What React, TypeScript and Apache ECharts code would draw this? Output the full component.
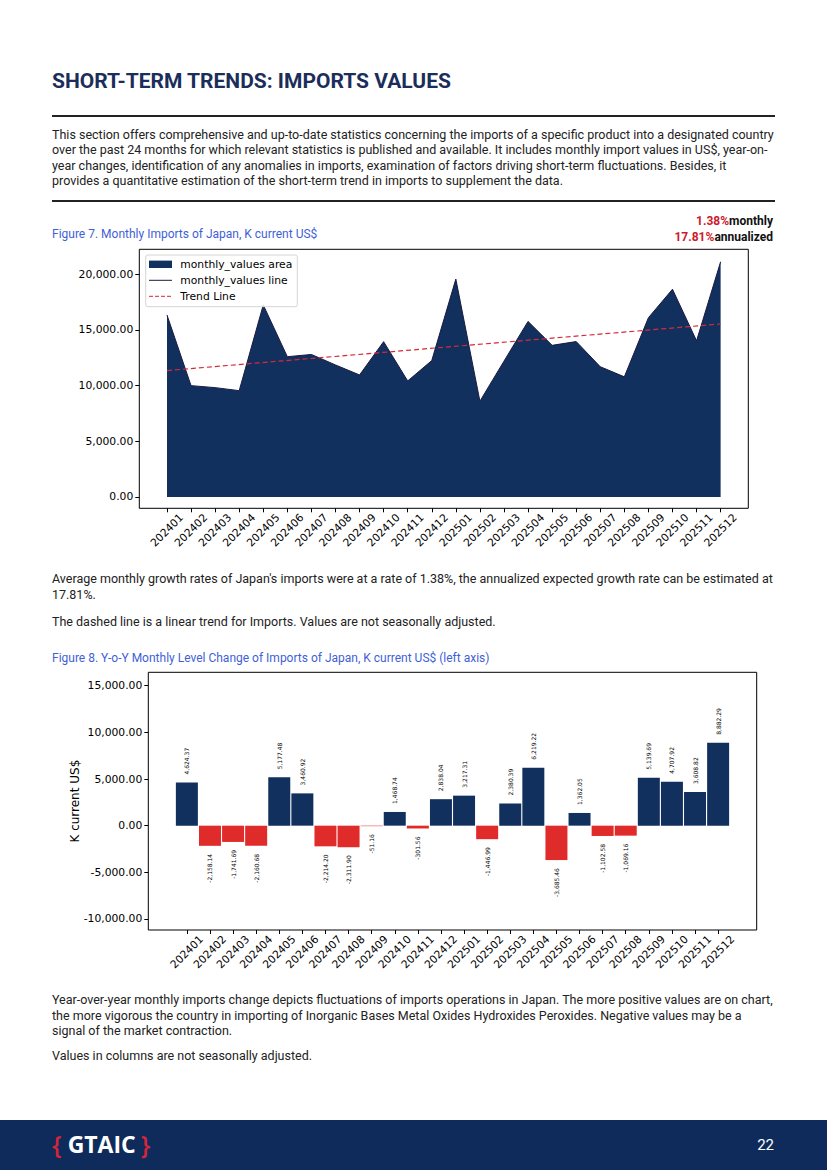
import React, { useEffect, useRef } from "react";
import * as echarts from "echarts";

const months = [
  "202401", "202402", "202403", "202404", "202405", "202406",
  "202407", "202408", "202409", "202410", "202411", "202412",
  "202501", "202502", "202503", "202504", "202505", "202506",
  "202507", "202508", "202509", "202510", "202511", "202512",
];

const monthlyValues = [
  16350, 10000, 9820, 9550, 17250, 12600, 12800, 11860, 10960, 13950, 10420, 12250,
  19570, 8600, 12200, 15770, 13620, 13960, 11700, 10790, 16100, 18660, 14030, 21130,
];

const trendStart = 11350;
const trendEnd = 15540;

const yoyChange = [
  4624.37, -2158.14, -1741.69, -2160.68, 5177.48, 3460.92, -2214.2, -2311.9,
  -51.16, 1468.74, -301.56, 2838.04, 3217.31, -1446.99, 2380.39, 6219.22,
  -3685.46, 1362.05, -1102.58, -1069.16, 5139.69, 4707.92, 3608.82, 8882.29,
];

const yTicks1 = [0, 5000, 10000, 15000, 20000];
const yTicks2 = [-10000, -5000, 0, 5000, 10000, 15000];

const NAVY = "#12305e";
const RED = "#e02b2b";
const TREND = "#d42a3c";
const MPL = "DejaVu Sans";

const fmt = (v: number) =>
  v.toLocaleString("en-US", { minimumFractionDigits: 2, maximumFractionDigits: 2 });

const idx = months.map((_, i) => i);

function xAxisFor(gridIndex: number, min: number, max: number) {
  return {
    type: "value",
    gridIndex,
    min,
    max,
    splitLine: { show: false },
    axisLine: { show: false, onZero: false },
    axisTick: { show: true, customValues: idx, length: 4, lineStyle: { color: "#000", width: 1 } },
    axisLabel: {
      customValues: idx,
      formatter: (v: number) => months[Math.round(v)] ?? "",
      rotate: 45,
      align: "center",
      verticalAlign: "middle",
      fontSize: 10.75,
      fontFamily: MPL,
      color: "#000",
      margin: 22,
    },
  };
}

function yAxisFor(gridIndex: number, min: number, max: number, ticks: number[], extra: any = {}) {
  return {
    type: "value",
    gridIndex,
    min,
    max,
    splitLine: { show: false },
    axisLine: { show: false, onZero: false },
    axisTick: { show: true, customValues: ticks, length: 4, lineStyle: { color: "#000", width: 1 } },
    axisLabel: {
      customValues: ticks,
      formatter: (v: number) => fmt(v),
      fontSize: 10.75,
      fontFamily: MPL,
      color: "#000",
      margin: 6,
    },
    ...extra,
  };
}

const legendRows = [
  { name: "monthly_values area", kind: "patch" },
  { name: "monthly_values line", kind: "line" },
  { name: "Trend Line", kind: "dash" },
];

function buildOption() {
  const legendX = 145.7;
  const legendY = 255;
  const rowY = [264.3, 280.3, 296.3];
  const graphics: any[] = [
    {
      type: "rect",
      shape: { x: legendX, y: legendY, width: 151.6, height: 51.7, r: 2 },
      style: { fill: "rgba(255,255,255,0.85)", stroke: "#d4d4d4", lineWidth: 1 },
      z: 100,
    },
  ];
  legendRows.forEach((r, i) => {
    const y = rowY[i];
    if (r.kind === "patch") {
      graphics.push({
        type: "rect",
        shape: { x: 149, y: y - 3.7, width: 23, height: 7.4 },
        style: { fill: NAVY },
        z: 101,
      });
    } else {
      graphics.push({
        type: "line",
        shape: { x1: 149, y1: y, x2: 172, y2: y },
        style: {
          stroke: r.kind === "line" ? "#1a1a40" : TREND,
          lineWidth: 1,
          lineDash: r.kind === "dash" ? [4, 2] : null,
        },
        z: 101,
      });
    }
    graphics.push({
      type: "text",
      x: 180.3,
      y,
      style: {
        text: r.name,
        fill: "#000",
        font: `10.75px "${MPL}"`,
        verticalAlign: "middle",
        align: "left",
      },
      z: 101,
    });
  });

  return {
    animation: false,
    graphic: graphics,
    grid: [
      {
        left: 139.3, top: 249.3, width: 609, height: 259,
        show: true, borderColor: "#000", borderWidth: 1, backgroundColor: "transparent",
      },
      {
        left: 148.3, top: 672.3, width: 608.4, height: 257.7,
        show: true, borderColor: "#000", borderWidth: 1, backgroundColor: "transparent",
      },
    ],
    xAxis: [xAxisFor(0, -1.15, 24.15), xAxisFor(1, -1.67, 24.67)],
    yAxis: [
      yAxisFor(0, -1018, 22246, yTicks1),
      yAxisFor(1, -11180, 16436, yTicks2, {
        name: "K current US$",
        nameLocation: "middle",
        nameGap: 67,
        nameMoveOverlap: false,
        nameTextStyle: { fontSize: 12, fontFamily: MPL, color: "#000" },
      }),
    ],
    series: [
      {
        name: "monthly_values area",
        type: "line",
        xAxisIndex: 0,
        yAxisIndex: 0,
        data: monthlyValues.map((v, i) => [i, v]),
        symbol: "none",
        lineStyle: { color: "#1a1a40", width: 1 },
        areaStyle: { color: NAVY, opacity: 1 },
        z: 2,
      },
      {
        name: "Trend Line",
        type: "line",
        xAxisIndex: 0,
        yAxisIndex: 0,
        data: [
          [0, trendStart],
          [months.length - 1, trendEnd],
        ],
        symbol: "none",
        lineStyle: { color: TREND, width: 1.2, type: [5, 3] },
        z: 3,
      },
      {
        name: "yoy",
        type: "bar",
        xAxisIndex: 1,
        yAxisIndex: 1,
        barWidth: 22,
        data: yoyChange.map((v, i) => ({
          value: [i, v],
          itemStyle: { color: v >= 0 ? NAVY : RED },
          label: {
            position: v >= 0 ? "top" : "bottom",
            align: v >= 0 ? "left" : "right",
          },
        })),
        label: {
          show: true,
          rotate: 90,
          verticalAlign: "middle",
          distance: 8,
          fontSize: 6,
          fontFamily: MPL,
          color: "#000",
          formatter: (p: any) => fmt(p.value[1]),
        },
      },
    ],
  };
}

const P: React.CSSProperties = {
  position: "absolute",
  left: 52,
  margin: 0,
  whiteSpace: "nowrap",
  fontSize: 12.5,
  lineHeight: "15.5px",
  color: "#222",
};

function Line({ top, children, style }: { top: number; children: React.ReactNode; style?: React.CSSProperties }) {
  return <div style={{ ...P, top, ...style }}>{children}</div>;
}

export default function App() {
  const ref = useRef<HTMLDivElement>(null);
  useEffect(() => {
    const chart = echarts.init(ref.current!, null, { renderer: "svg" });
    chart.setOption(buildOption() as any);
    return () => chart.dispose();
  }, []);

  const lh = 15.5;
  const para1 = [
    "This section offers comprehensive and up-to-date statistics concerning the imports of a specific product into a designated country",
    "over the past 24 months for which relevant statistics is published and available. It includes monthly import values in US$, year-on-",
    "year changes, identification of any anomalies in imports, examination of factors driving short-term fluctuations. Besides, it",
    "provides a quantitative estimation of the short-term trend in imports to supplement the data.",
  ];
  const para2 = [
    "Average monthly growth rates of Japan's imports were at a rate of 1.38%, the annualized expected growth rate can be estimated at",
    "17.81%.",
  ];
  const para3 = [
    "Year-over-year monthly imports change depicts fluctuations of imports operations in Japan. The more positive values are on chart,",
    "the more vigorous the country in importing of Inorganic Bases Metal Oxides Hydroxides Peroxides. Negative values may be a",
    "signal of the market contraction.",
  ];

  return (
    <div
      style={{
        position: "absolute",
        left: 0,
        top: 0,
        width: 827,
        height: 1170,
        background: "#fff",
        fontFamily: "Roboto, 'Noto Sans', sans-serif",
        overflow: "hidden",
      }}
    >
      <div ref={ref} style={{ position: "absolute", left: 0, top: 0, width: 827, height: 1170 }} />

      <div
        style={{
          position: "absolute",
          left: 52,
          top: 68,
          fontSize: 21,
          lineHeight: "26px",
          fontWeight: 700,
          color: "#1b2d5a",
          whiteSpace: "nowrap",
        }}
      >
        SHORT-TERM TRENDS: IMPORTS VALUES
      </div>
      <div style={{ position: "absolute", left: 52, top: 114.5, width: 723, height: 2, background: "#222" }} />
      {para1.map((t, i) => (
        <Line key={i} top={126.75 + i * lh}>{t}</Line>
      ))}
      <div style={{ position: "absolute", left: 52, top: 200, width: 723, height: 2, background: "#222" }} />

      <Line top={227.25} style={{ color: "#3f5fd8", fontSize: 12 }}>
        Figure 7. Monthly Imports of Japan, K current US$
      </Line>
      <div
        style={{
          position: "absolute",
          right: 54,
          top: 213,
          textAlign: "right",
          fontSize: 12,
          lineHeight: "16px",
          fontWeight: 700,
          color: "#111",
          whiteSpace: "nowrap",
        }}
      >
        <div>
          <span style={{ color: "#cc1a2c" }}>1.38%</span>monthly
        </div>
        <div>
          <span style={{ color: "#cc1a2c" }}>17.81%</span>annualized
        </div>
      </div>

      {para2.map((t, i) => (
        <Line key={i} top={571.25 + i * lh}>{t}</Line>
      ))}
      <Line top={613.75}>The dashed line is a linear trend for Imports. Values are not seasonally adjusted.</Line>

      <Line top={651.25} style={{ color: "#3f5fd8", fontSize: 12 }}>
        Figure 8. Y-o-Y Monthly Level Change of Imports of Japan, K current US$ (left axis)
      </Line>

      {para3.map((t, i) => (
        <Line key={i} top={992.25 + i * lh}>{t}</Line>
      ))}
      <Line top={1048.25}>Values in columns are not seasonally adjusted.</Line>

      <div
        style={{
          position: "absolute",
          left: 0,
          top: 1120,
          width: 827,
          height: 50,
          background: "#0f2b5b",
        }}
      >
        <div
          style={{
            position: "absolute",
            left: 52,
            top: 8,
            fontFamily: "'Open Sans', sans-serif",
            fontSize: 23,
            lineHeight: "32px",
            fontWeight: 700,
            color: "#fff",
            whiteSpace: "nowrap",
            display: "flex",
            alignItems: "center",
          }}
        >
          <span style={{ color: "#d3263a", fontWeight: 600, fontSize: 25 }}>{"{"}</span>
          <span style={{ marginLeft: 6, marginRight: 5 }}>GTAIC</span>
          <span style={{ color: "#d3263a", fontWeight: 600, fontSize: 25 }}>{"}"}</span>
        </div>
        <div
          style={{
            position: "absolute",
            right: 53,
            top: 15,
            fontSize: 15,
            lineHeight: "20px",
            color: "#fff",
          }}
        >
          22
        </div>
      </div>
    </div>
  );
}
